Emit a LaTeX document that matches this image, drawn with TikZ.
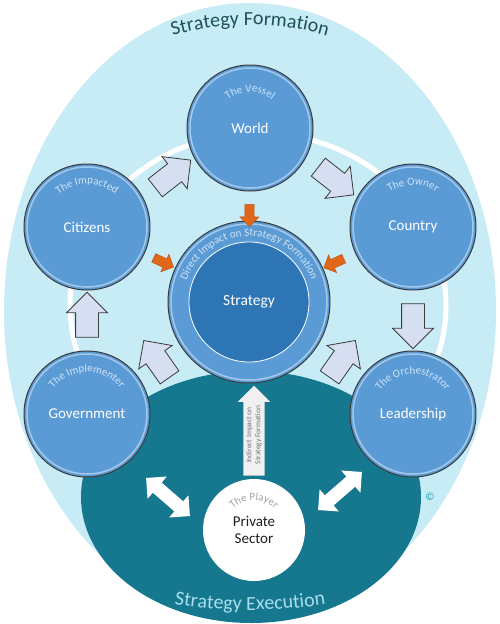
\documentclass[tikz,border=0pt]{standalone}
\usepackage{fontspec}
\setmainfont{Carlito}
\usetikzlibrary{positioning, calc, shapes.arrows, decorations.text}
\definecolor{skyfill}{HTML}{C8ECF5}
\definecolor{tealfill}{HTML}{16788F}
\definecolor{globefill}{HTML}{5B9BD5}
\definecolor{corefill}{HTML}{2E75B6}
\definecolor{rimline}{HTML}{3A3A3A}
\definecolor{flowfill}{HTML}{D5DFF1}
\definecolor{impactfill}{HTML}{E2661A}
\definecolor{labeltext}{HTML}{D0E3F5}
\definecolor{formtext}{HTML}{1E4F5E}
\definecolor{exectext}{HTML}{A9DDEC}
\definecolor{playertext}{HTML}{A3A3A3}
\newcommand{\ArcLabel}[5][labeltext]{%
  \path[decorate, decoration={text along path, text align=center,
      text={|\fontsize{#4}{#4}\selectfont\color{#1}|#5}}]
    (#2.center) ++(170:#3) arc[start angle=170, end angle=10, radius=#3];}
\tikzset{
    globe/.style={circle, fill=globefill, draw=rimline, line width=1pt, text=white,
      font=\fontsize{15}{17}\selectfont, minimum size=126pt, inner sep=0pt},
    rim/.style={white, opacity=0.45, line width=1.5pt},
    flowarrow/.style={single arrow, fill=flowfill, draw=rimline, line width=0.8pt,
      minimum height=45pt, inner xsep=0pt, inner ysep=11pt, single arrow head extend=9pt},
    impact/.style={single arrow, fill=impactfill, draw=impactfill!80!black, line width=0.4pt,
      minimum height=22pt, inner xsep=0pt, inner ysep=4.5pt, single arrow head extend=5pt},
    swap/.style={double arrow, fill=white, draw=none,
      minimum height=58pt, inner xsep=0pt, inner ysep=6.5pt, double arrow head extend=8pt},
}

\begin{document}
\begin{tikzpicture}[x=1pt, y=1pt]
    \useasboundingbox[fill=white] (0,0) rectangle (500,-624);

    \fill[skyfill] (250,-311) ellipse[x radius=246, y radius=308];
    \draw[white, line width=5pt] (258,-305) ellipse[x radius=188, y radius=172];
    \fill[tealfill] (251,-497) ellipse[x radius=170, y radius=126];

    \node[globe] (world) at (250,-128) {World};
    \node[globe] (citizens) at (87,-227) {Citizens};
    \node[globe] (country) at (413,-227) {Country};
    \node[globe] (government) at (87,-414) {Government};
    \node[globe] (leadership) at (413,-414) {Leadership};
    \node[globe, minimum size=162pt] (strategy) at (249,-302) {};
    \node[circle, fill=corefill, draw=white, line width=0.8pt, minimum size=120pt, text=white,
      font=\fontsize{15.5}{17}\selectfont] (core) at (strategy) {Strategy};
    \foreach \n/\r in {world/60, citizens/60, country/60, government/60, leadership/60, strategy/78}
      \draw[rim] (\n.center) circle[radius=\r];

    \node[flowarrow, rotate=90] (a1) at ($(government)!0.5!(citizens)$) {};
    \node[flowarrow, rotate=38] (a2) at ($(citizens)!0.5!(world)$) {};
    \node[flowarrow, rotate=-38] (a3) at ($(world)!0.5!(country)$) {};
    \node[flowarrow, rotate=-90] (a4) at ($(country)!0.5!(leadership)$) {};
    \node[flowarrow, rotate=55] (a5) at ($(strategy)!0.55!(leadership)$) {};
    \node[flowarrow, rotate=125] (a6) at ($(strategy)!0.55!(government)$) {};

    \path (world.center) -- node[impact, sloped, allow upside down, pos=0.49] (i1) {} (strategy.center);
    \path (citizens.center) -- node[impact, sloped, allow upside down, pos=0.46] (i2) {} (strategy.center);
    \path (country.center) -- node[impact, sloped, allow upside down, pos=0.47] (i3) {} (strategy.center);

    \node[circle, fill=white, minimum size=102pt, inner sep=0pt, align=center, text=black!88,
      font=\fontsize{15}{17}\selectfont] (player) at (254,-530) {Private\\Sector};
    \node[single arrow, fill=white!94!black, draw=none, rotate=90, anchor=tail,
      minimum height=90pt, inner xsep=0pt, inner ysep=10.5pt, single arrow head extend=5.5pt]
      (ind) at ([yshift=3pt]player.north) {};
    \node[rotate=90, align=center, text=black!55, inner sep=0pt, font=\fontsize{7.5}{9}\selectfont]
      (indlabel) at ($(ind.tail)!0.45!(ind.tip)$) {Indirect Impact on\\Strategy Formation};

    \node[swap, rotate=-41] (d1) at (168,-497) {};
    \node[swap, rotate=41] (d2) at (340,-491) {};

    \ArcLabel{world}{36}{11}{The Vessel}
    \ArcLabel{citizens}{43}{11}{The Impacted}
    \ArcLabel{country}{42}{11}{The Owner}
    \ArcLabel{government}{42}{11}{The Implementer}
    \ArcLabel{leadership}{40}{11}{The Orchestrator}
    \ArcLabel{strategy}{66}{11}{Direct Impact on Strategy Formation}
    \ArcLabel[playertext]{player}{30}{11}{The Player}

    \path[decorate, decoration={text along path, text align=center,
        text={|\fontsize{20}{22}\selectfont\color{formtext}|Strategy Formation}}]
      (250,-305) ++(110:280) arc[start angle=110, end angle=70, radius=280];
    \path[decorate, decoration={text along path, text align=center,
        text={|\fontsize{20}{22}\selectfont\color{exectext}|Strategy Execution}}]
      (250,-110) ++(258:500) arc[start angle=258, end angle=282, radius=500];

    \node[text=tealfill!70!cyan, font=\fontsize{11}{12}\selectfont] (copy) at (430,-497) {©};
  \end{tikzpicture}
\end{document}
